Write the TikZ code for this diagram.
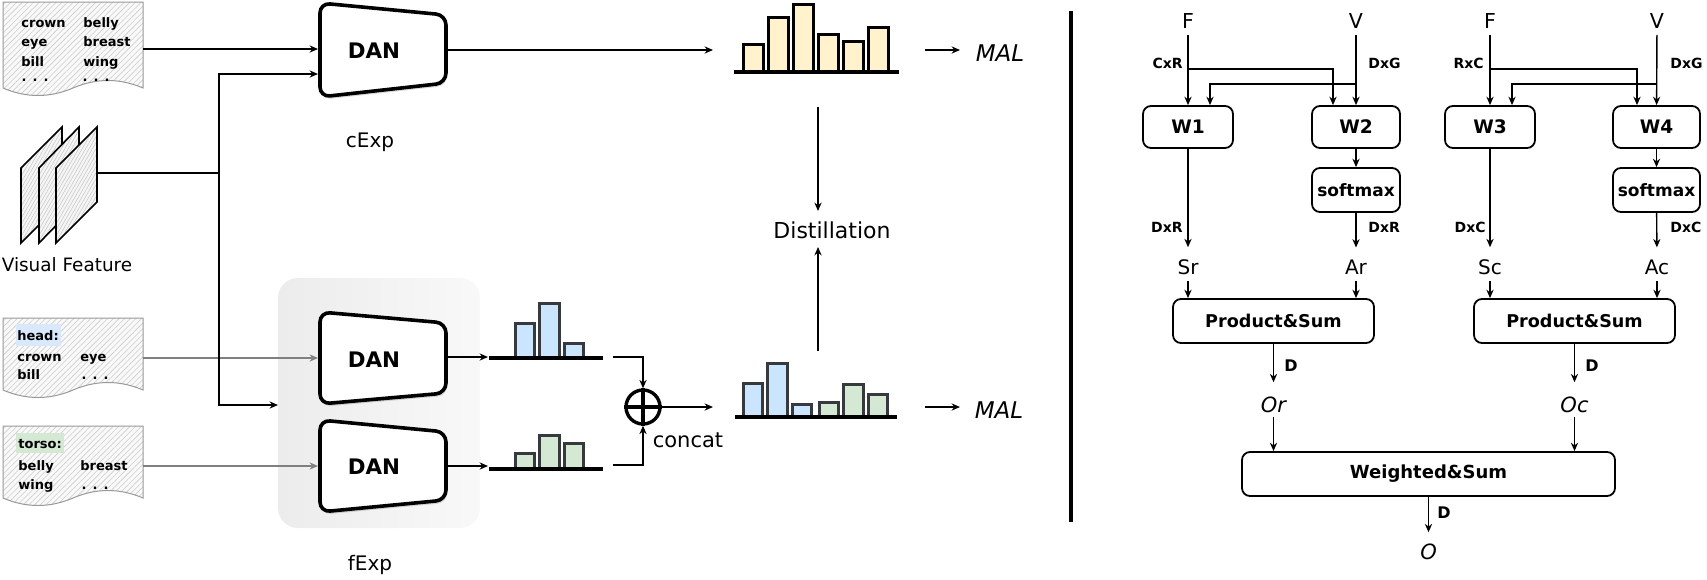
\documentclass[tikz,border=0pt]{standalone}
\usepackage{fontspec}
\setmainfont{DejaVu Sans}
\usetikzlibrary{arrows.meta,patterns.meta,shadows,calc}
\definecolor{yel}{HTML}{FFF2CC}
\definecolor{blu}{HTML}{CCE5FF}
\definecolor{grn}{HTML}{D5E8D4}
\definecolor{barline}{HTML}{36393D}
\definecolor{hlblue}{HTML}{DAE8FC}
\definecolor{hlgreen}{HTML}{D5E8D4}
\definecolor{docline}{HTML}{999999}
\newcommand\fs[1]{\fontsize{#1}{#1}\selectfont}
\tikzset{
  arr/.style={line width=0.7pt,-{Stealth[length=4.2pt,width=3.6pt]}},
  garr/.style={arr,draw=gray},
  ln/.style={line width=0.7pt},
  rbox/.style={draw,line width=0.9pt,rounded corners=4pt,inner sep=0pt,minimum height=21pt,font=\fs{9.3}\bfseries},
  sym/.style={inner xsep=0pt,inner ysep=3pt,font=\fs{10}},
  osym/.style={inner xsep=0pt,inner ysep=2pt,font=\fs{10.5}\itshape},
  toplbl/.style={inner xsep=0pt,inner ysep=3pt,font=\fs{10.3}},
  dimr/.style={inner sep=0pt,anchor=east,font=\fs{7}\bfseries},
  diml/.style={inner sep=0pt,anchor=west,font=\fs{7}\bfseries},
  dlbl/.style={inner sep=0pt,anchor=west,font=\fs{8}\bfseries},
  dtxt/.style={inner sep=0pt,anchor=base west,font=\fs{6.5}\bfseries},
  dotstxt/.style={inner sep=0pt,anchor=base,font=\fs{6.5}\bfseries},
  danbox/.style={draw,line width=1.8pt,fill=white,rounded corners=5pt,drop shadow={opacity=0.3,shadow xshift=0.6pt,shadow yshift=-1.4pt}},
  danlbl/.style={inner sep=0pt,font=\fs{10.7}\bfseries},
  ybar/.style={draw=black,line width=1.5pt,fill=yel},
  bbar/.style={draw=barline,line width=1.5pt,fill=blu},
  gbar/.style={draw=barline,line width=1.5pt,fill=grn},
  hbase/.style={line width=2pt},
  docshape/.style={draw=docline,line width=0.5pt,preaction={fill=gray!5},pattern={Lines[angle=45,distance=2pt,line width=0.3pt]},pattern color=gray!40},
  vfshape/.style={draw,line width=0.8pt,preaction={fill=gray!8},pattern={Lines[angle=60,distance=1.5pt,line width=0.25pt]},pattern color=gray!45},
  captxt/.style={inner sep=0pt,font=\fs{10}},
}
\begin{document}
\begin{tikzpicture}[x=0.5pt,y=-0.5pt]
\useasboundingbox (0,0) rectangle (1707,579);

% ---------- fExp background ----------
\path[rounded corners=10pt,left color=gray!15,right color=gray!5] (278,278) rectangle (480,528);

% ---------- text documents ----------
\path[docshape] (3,2) -- (143,2) -- (143,88) .. controls (119.7,78) and (96.3,78) .. (73,88) .. controls (49.7,98) and (26.3,98) .. (3,88) -- cycle;
\node[dtxt] (t11) at (21,27) {crown};
\node[dtxt] (t12) at (83,27) {belly};
\node[dtxt] (t13) at (21,46) {eye};
\node[dtxt] (t14) at (83,46) {breast};
\node[dtxt] (t15) at (21,66) {bill};
\node[dtxt] (t16) at (83,66) {wing};
\node[dotstxt] (t17) at (35,81) {. . .};
\node[dotstxt] (t18) at (96,81) {. . .};

\path[docshape] (3,318) -- (143,318) -- (143,390) .. controls (119.7,380) and (96.3,380) .. (73,390) .. controls (49.7,400) and (26.3,400) .. (3,390) -- cycle;
\fill[hlblue] (16,324) rectangle (61,346);
\node[dtxt] (h1) at (17,340) {head:};
\node[dtxt] (h2) at (17,361) {crown};
\node[dtxt] (h3) at (80,361) {eye};
\node[dtxt] (h4) at (17,379) {bill};
\node[dotstxt] (h5) at (95,379) {. . .};

\path[docshape] (3,426) -- (143,426) -- (143,498) .. controls (119.7,488) and (96.3,488) .. (73,498) .. controls (49.7,508) and (26.3,508) .. (3,498) -- cycle;
\fill[hlgreen] (16,433) rectangle (64,453);
\node[dtxt] (s1) at (18,448) {torso:};
\node[dtxt] (s2) at (18,470) {belly};
\node[dtxt] (s3) at (80,470) {breast};
\node[dtxt] (s4) at (18,489) {wing};
\node[dotstxt] (s5) at (95,489) {. . .};

% ---------- visual feature ----------
\path[vfshape] (21,168) -- (62,127) -- (62,202) -- (21,243) -- cycle;
\path[vfshape] (39,168) -- (79,127) -- (79,202) -- (39,243) -- cycle;
\path[vfshape] (56,168) -- (97,127) -- (97,202) -- (56,243) -- cycle;
\node[captxt,font=\fs{9.2}] (vflbl) at (67,265) {Visual Feature};

% ---------- coordinates ----------
\coordinate (doc1) at (143,49);
\coordinate (doc2) at (143,358);
\coordinate (doc3) at (143,466);
\coordinate (d1a) at (318,49);
\coordinate (d1b) at (318,74);
\coordinate (d2a) at (318,358);
\coordinate (d3a) at (318,466);
\coordinate (vfout) at (97,173);
\coordinate (jn) at (219,173);
\coordinate (fin) at (278,405);

\draw[arr] (doc1) -- (d1a);
\draw[garr] (doc2) -- (d2a);
\draw[garr] (doc3) -- (d3a);
\draw[arr] (vfout) -- (jn) |- (d1b);
\draw[arr] (jn) |- (fin);

% ---------- DAN blocks ----------
\path[danbox] (320,3) -- (446,15) -- (446,83) -- (320,97) -- cycle;
\node[danlbl] (dan1) at (374,51) {DAN};
\path[danbox] (320,312) -- (446,323) -- (446,393) -- (320,404) -- cycle;
\node[danlbl] (dan2) at (374,360) {DAN};
\path[danbox] (320,420) -- (446,432) -- (446,500) -- (320,512) -- cycle;
\node[danlbl] (dan3) at (374,467) {DAN};

\node[captxt,font=\fs{10}] (cexp) at (370,142) {cExp};
\node[captxt,font=\fs{10}] (fexp) at (370,565) {fExp};

\coordinate (d1o) at (447,50);
\coordinate (d2o) at (447,357);
\coordinate (d3o) at (447,466);
\coordinate (h1in) at (713,50);
\coordinate (h2in) at (488,357);
\coordinate (h3in) at (488,466);
\draw[arr] (d1o) -- (h1in);
\draw[arr] (d2o) -- (h2in);
\draw[arr] (d3o) -- (h3in);

% ---------- histograms ----------
\foreach \x/\t in {743/44,768/17,793/4,818/34,843/41,868/27}
  \draw[ybar] (\x,\t) rectangle (\x+20,72);
\draw[hbase] (734,72) -- (899,72);

\foreach \x/\t in {515/323,539.5/303,564/343}
  \draw[bbar] (\x,\t) rectangle (\x+19.5,358);
\draw[hbase] (489,358) -- (603,358);

\foreach \x/\t in {515/453,539.5/435,564/443}
  \draw[gbar] (\x,\t) rectangle (\x+19.5,469);
\draw[hbase] (489,469) -- (603,469);

\foreach \x/\t in {743/383,767.5/363,792/404}
  \draw[bbar] (\x,\t) rectangle (\x+19.5,417);
\foreach \x/\t in {819/402,843.5/384,868/394}
  \draw[gbar] (\x,\t) rectangle (\x+19.5,417);
\draw[hbase] (735,417) -- (897,417);

% ---------- concat ----------
\node[circle,draw,line width=1.7pt,minimum size=17pt,inner sep=0pt] (op) at (643,407) {};
\draw[line width=1.7pt] (op.north) -- (op.south) (op.west) -- (op.east);
\coordinate (h2o) at (613,357);
\coordinate (h3o) at (613,465);
\coordinate (cin) at (713,407);
\draw[arr] (h2o) -| (op.north);
\draw[arr] (h3o) -| (op.south);
\draw[arr] (op.east) -- (cin);
\node[captxt,font=\fs{10.5}] (concat) at (688,440) {concat};

% ---------- MAL & distillation ----------
\coordinate (m1a) at (925,50);
\coordinate (m1b) at (960,50);
\coordinate (m2a) at (925,407);
\coordinate (m2b) at (960,407);
\draw[arr] (m1a) -- (m1b);
\draw[arr] (m2a) -- (m2b);
\node[captxt,font=\fs{11.5}\itshape] (mal1) at (1000,53) {MAL};
\node[captxt,font=\fs{11.5}\itshape] (mal2) at (999,410) {MAL};

\node[captxt,font=\fs{11}] (dist) at (832,230) {Distillation};
\coordinate (ds1) at (818,107);
\coordinate (ds2) at (818,211);
\coordinate (ds3) at (818,351);
\coordinate (ds4) at (818,247);
\draw[arr] (ds1) -- (ds2);
\draw[arr] (ds3) -- (ds4);

% ---------- divider ----------
\draw[line width=2.2pt] (1071,11) -- (1071,522);

% ---------- right diagram ----------
\node[toplbl] (F1) at (1188,21) {F};
\node[toplbl] (V1) at (1356,21) {V};
\node[toplbl] (F2) at (1490,21) {F};
\node[toplbl] (V2) at (1657,21) {V};

\node[rbox,minimum width=45pt] (W1) at (1188,127) {W1};
\node[rbox,minimum width=44pt] (W2) at (1356,127) {W2};
\node[rbox,minimum width=45pt] (W3) at (1490,127) {W3};
\node[rbox,minimum width=43.5pt] (W4) at (1656.5,127) {W4};
\node[rbox,minimum width=44pt,minimum height=22pt,font=\fs{8.5}\bfseries] (SM1) at (1356,190) {softmax};
\node[rbox,minimum width=43.5pt,minimum height=22pt,font=\fs{8.5}\bfseries] (SM2) at (1656.5,190) {softmax};

\node[dimr] (cxr) at (1183,63) {CxR};
\node[diml] (dxg1) at (1368,63) {DxG};
\node[dimr] (rxc) at (1484,63) {RxC};
\node[diml] (dxg2) at (1670,63) {DxG};

\draw[arr] (F1) -- (W1);
\draw[arr] (V1) -- (W2);
\draw[arr] (F2) -- (W3);
\draw[arr] (V2) -- (W4);

\coordinate (f1b) at (1188,69);
\coordinate (v1b) at (1356,84);
\coordinate (f2b) at (1490,69);
\coordinate (v2b) at (1657,84);
\coordinate (w1in) at ($(W1.north)+(22,0)$);
\coordinate (w2in) at ($(W2.north)+(-23,0)$);
\coordinate (w3in) at ($(W3.north)+(22,0)$);
\coordinate (w4in) at ($(W4.north)+(-19.5,0)$);
\draw[arr] (f1b) -| (w2in);
\draw[arr] (v1b) -| (w1in);
\draw[arr] (f2b) -| (w4in);
\draw[arr] (v2b) -| (w3in);

\draw[arr] (W2) -- (SM1);
\draw[arr] (W4) -- (SM2);

\node[sym] (Sr) at (1188,267) {Sr};
\node[sym] (Ar) at (1356,267) {Ar};
\node[sym] (Sc) at (1490,267) {Sc};
\node[sym] (Ac) at (1657,267) {Ac};

\draw[arr,shorten >=2.9pt] (W1) -- (Sr);
\draw[arr,shorten >=2.9pt] (SM1) -- (Ar);
\draw[arr,shorten >=2.9pt] (W3) -- (Sc);
\draw[arr,shorten >=2.9pt] (SM2) -- (Ac);

\node[dimr] (dxr1) at (1183,227) {DxR};
\node[diml] (dxr2) at (1368,227) {DxR};
\node[dimr] (dxc1) at (1486,227) {DxC};
\node[diml] (dxc2) at (1670,227) {DxC};

\node[rbox,minimum width=100.5pt,minimum height=22pt,font=\fs{8.8}\bfseries] (P1) at (1273.5,321) {Product\&Sum};
\node[rbox,minimum width=100.5pt,minimum height=22pt,font=\fs{8.8}\bfseries] (P2) at (1574.5,321) {Product\&Sum};

\draw[arr] (Sr) -- (Sr |- P1.north);
\draw[arr] (Ar) -- (Ar |- P1.north);
\draw[arr] (Sc) -- (Sc |- P2.north);
\draw[arr] (Ac) -- (Ac |- P2.north);

\node[osym] (Or) at (1273.5,405) {Or};
\node[osym] (Oc) at (1574.5,405) {Oc};
\draw[arr,shorten >=5.2pt] (P1) -- (Or);
\draw[arr,shorten >=5.2pt] (P2) -- (Oc);
\node[dlbl] (dl1) at (1284,366) {D};
\node[dlbl] (dl2) at (1585,366) {D};

\node[rbox,minimum width=186.5pt,minimum height=22pt,font=\fs{9}\bfseries] (WS) at (1428.5,474) {Weighted\&Sum};
\draw[arr] (Or) -- (Or |- WS.north);
\draw[arr] (Oc) -- (Oc |- WS.north);

\node[inner sep=0pt,font=\fs{10.5}\itshape] (O) at (1428.5,552) {O};
\draw[arr,shorten >=5.7pt] (WS) -- (O);
\node[dlbl] (dl3) at (1437,513) {D};
\end{tikzpicture}
\end{document}
